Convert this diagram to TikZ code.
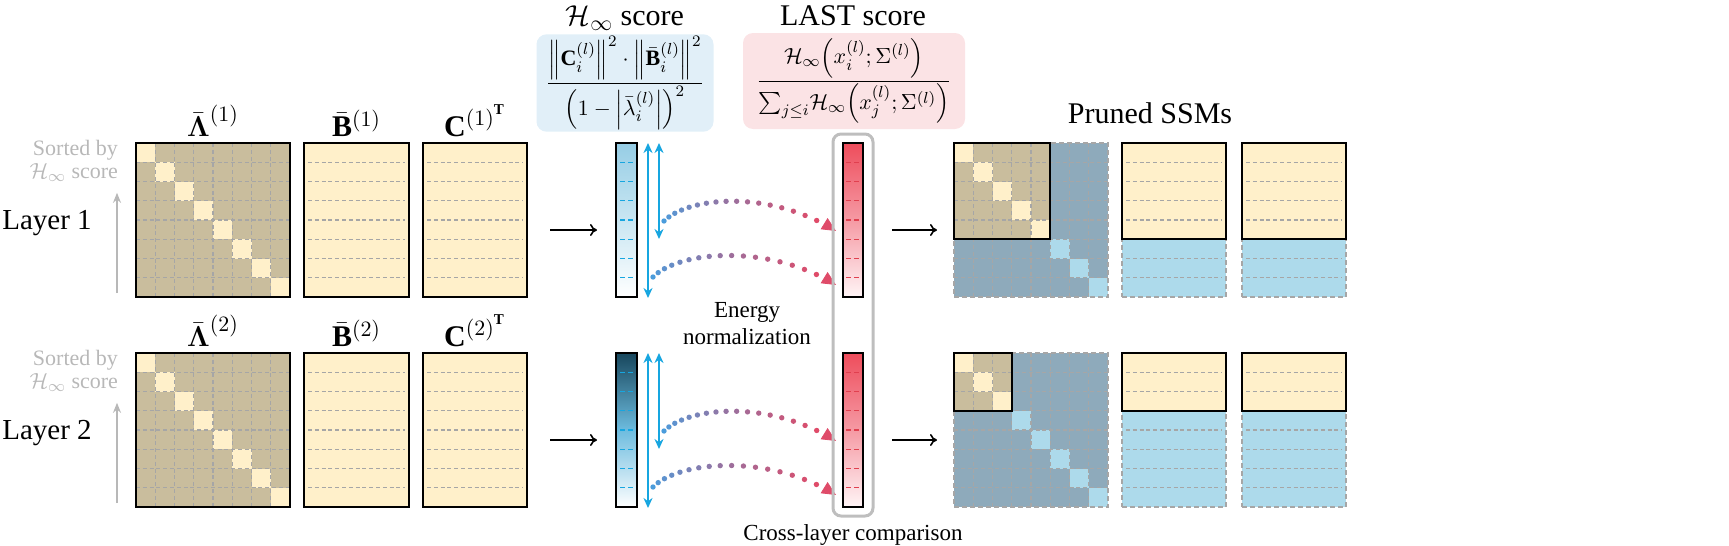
\documentclass[tikz,border=0pt]{standalone}
\usepackage{fontspec}
\setmainfont{Liberation Serif}
\usepackage{amsmath,amssymb,bm}
\usetikzlibrary{arrows.meta,positioning,fit}

\definecolor{lamtan}{HTML}{C9BD9D}
\definecolor{cream}{HTML}{FFF0CA}
\definecolor{slate}{HTML}{8EAABB}
\definecolor{skyfill}{HTML}{ADDAEB}
\definecolor{gridgray}{HTML}{A6A6A6}
\definecolor{hboxblue}{HTML}{E1EFF8}
\definecolor{lboxpink}{HTML}{FBE3E5}
\definecolor{cmpgray}{HTML}{BEBEBE}
\definecolor{arrowcyan}{HTML}{17A6E0}
\definecolor{dotblue}{HTML}{4B9CDC}
\definecolor{dotred}{HTML}{DF4B69}
\definecolor{redtop}{HTML}{EE4D5C}
\definecolor{redmid}{HTML}{F59AA4}
\definecolor{redbot}{HTML}{FFF5F6}
\definecolor{dashred}{HTML}{E0404F}
\definecolor{ebarAtop}{HTML}{96CDE5}
\definecolor{ebarAmid}{HTML}{C9E6F2}
\definecolor{ebarBtop}{HTML}{17465C}
\definecolor{ebarBmid}{HTML}{6DBCDF}
\definecolor{sortgray}{HTML}{B8B8B8}

\tikzset{
  matbox/.style={draw=black, line width=0.9pt, inner sep=0pt, outer sep=0pt},
  cutbox/.style={draw=gridgray, line width=0.8pt, dash pattern=on 2.5pt off 1.5pt, inner sep=0pt, outer sep=0pt},
  gridline/.style={gridgray, line width=0.6pt, dash pattern=on 2pt off 1.4pt},
  bardash/.style={line width=0.7pt, dash pattern=on 2.5pt off 1.5pt},
  flow/.style={-{To[length=3.5pt,width=6pt]}, line width=0.8pt},
  swing/.style={{Stealth[length=5pt,width=4.5pt]}-{Stealth[length=5pt,width=4.5pt]}, arrowcyan, line width=1.3pt},
  sortarrow/.style={-{Stealth[length=5pt,width=4pt]}, sortgray, line width=1pt},
  dot/.style={circle, inner sep=0pt, minimum size=2.7pt},
  tipline/.style={draw=dotred, dash pattern=on 0pt off 600pt, -{Triangle[length=7pt,width=6.5pt]}},
  title/.style={font=\fontsize{15}{18}\selectfont},
  caption/.style={font=\fontsize{11.5}{13.5}\selectfont, align=center},
  matlabel/.style={inner sep=1pt, font=\fontsize{15}{17}\selectfont},
  formbox/.style={rounded corners=5pt, inner sep=1pt, font=\fontsize{11}{13}\selectfont},
}

\begin{document}
\begin{tikzpicture}[x=0.5pt, y=-0.5pt]
  \useasboundingbox (0,0) rectangle (1729,546);
  \def\cs{19.25}

  % Score formulas
  \node[formbox, fill=hboxblue, minimum width=88.5pt, minimum height=47.5pt] (hform) at (625,83)
    {$\dfrac{\Bigl\|\mathbf{C}_i^{(l)}\Bigr\|^2\cdot\Bigl\|\bar{\mathbf{B}}_i^{(l)}\Bigr\|^2}{\Bigl(1-\Bigl|\bar\lambda_i^{(l)}\Bigr|\Bigr)^2}$};
  \node[title] (htitle) at (625,18) {$\mathcal{H}_\infty$ score};
  \node[formbox, fill=lboxpink, minimum width=111pt, minimum height=48pt] (lform) at (854,81)
    {$\dfrac{\mathcal{H}_\infty\Bigl(x_i^{(l)};\Sigma^{(l)}\Bigr)}{{\textstyle\sum_{j\le i}}\mathcal{H}_\infty\Bigl(x_j^{(l)};\Sigma^{(l)}\Bigr)}$};
  \node[title] (ltitle) at (853,16) {LAST score};
  \node[title] (ptitle) at (1150,113) {Pruned SSMs};

  \foreach \l/\yo/\k/\etop/\emid in {1/0/5/ebarAtop/ebarAmid, 2/210/3/ebarBtop/ebarBmid}{
  \begin{scope}[shift={(0,\yo)}]
    % Layer label
    \node[font=\fontsize{14.5}{16}\selectfont] (layer\l) at (47,223) {Layer \l};
    \node[sortgray, align=right, anchor=east, font=\fontsize{11}{11.5}\selectfont] (sorted\l) at (125,161)
      {Sorted by\\$\mathcal{H}_\infty$ score};
    \coordinate (sb\l) at (117,293);
    \draw[sortarrow, shorten >=2pt] (sb\l) -- (sb\l |- sorted\l.south);

    % Lambda matrix
    \fill[lamtan] (136,143) rectangle ++(154,154);
    \foreach \i in {0,...,7}
      \fill[cream] (136+\i*\cs,143+\i*\cs) rectangle ++(\cs,\cs);
    \foreach \i in {1,...,7}{
      \draw[gridline] (136+\i*\cs,143) -- ++(0,154);
      \draw[gridline] (136,143+\i*\cs) -- ++(154,0);
    }
    \node[matbox, minimum width=77pt, minimum height=77pt] (lam\l) at (213,220) {};

    % B and C matrices
    \node[matbox, fill=cream, minimum width=52.5pt, minimum height=77pt] (bmat\l) at (356.5,220) {};
    \node[matbox, fill=cream, minimum width=52pt, minimum height=77pt] (cmat\l) at (475,220) {};
    \foreach \i in {1,...,7}{
      \draw[gridline] (308,143+\i*\cs) -- (405,143+\i*\cs);
      \draw[gridline] (427,143+\i*\cs) -- (523,143+\i*\cs);
    }
    \node[matlabel, above=2pt of lam\l] (lamlab\l) {$\bar{\bm{\Lambda}}^{(\l)}$};
    \node[matlabel, above=2pt of bmat\l] (blab\l) {$\bar{\mathbf{B}}^{(\l)}$};
    \node[matlabel, above=2pt of cmat\l] (clab\l) {$\mathbf{C}^{{(\l)}^{\mathbf{T}}}$};

    % Energy bar
    \node[matbox, top color=\etop, bottom color=white, middle color=\emid, minimum width=10.5pt, minimum height=77pt] (ebar\l) at (626.5,220) {};
    \foreach \i in {1,...,7}
      \draw[bardash, arrowcyan] (620,143+\i*\cs) -- (634,143+\i*\cs);
    \coordinate (la\l) at (648,143);
    \coordinate (lb\l) at (648,298);
    \coordinate (ua\l) at (659,143);
    \coordinate (ub\l) at (659,239);
    \draw[swing] (la\l) -- (lb\l);
    \draw[swing] (ua\l) -- (ub\l);

    % LAST bar
    \node[matbox, top color=redtop, bottom color=redbot, middle color=redmid, minimum width=10pt, minimum height=77pt] (rbar\l) at (853,220) {};
    \foreach \i in {1,...,7}
      \draw[bardash, dashred] (846,143+\i*\cs) -- (860,143+\i*\cs);

    % Dotted links
    \coordinate (hs\l) at (664,221);
    \coordinate (he\l) at (836,231);
    \coordinate (ls\l) at (653,277);
    \coordinate (le\l) at (836,285);
    \foreach \t [evaluate=\t as \p using \t*0.0565, evaluate=\t as \m using \t*6.25] in {0,...,16}{
      \path (hs\l) .. controls +(26,-25) and +(-66,-41) .. (he\l) node[dot, fill=dotred!\m!dotblue, pos=\p] {};
      \path (ls\l) .. controls +(27,-27) and +(-66,-41) .. (le\l) node[dot, fill=dotred!\m!dotblue, pos=\p] {};
    }
    \draw[tipline] (hs\l) .. controls +(26,-25) and +(-66,-41) .. (he\l);
    \draw[tipline] (ls\l) .. controls +(27,-27) and +(-66,-41) .. (le\l);

    % Pruned Lambda
    \fill[slate] (954,143) rectangle ++(154,154);
    \fill[lamtan] (954,143) rectangle ++(\k*\cs,\k*\cs);
    \foreach \i in {0,...,7}{
      \ifnum\i<\k \def\cellcol{cream}\else\def\cellcol{skyfill}\fi
      \fill[\cellcol] (954+\i*\cs,143+\i*\cs) rectangle ++(\cs,\cs);
    }
    \foreach \i in {1,...,7}{
      \draw[gridline] (954+\i*\cs,143) -- ++(0,154);
      \draw[gridline] (954,143+\i*\cs) -- ++(154,0);
    }
    \node[cutbox, minimum width=77pt, minimum height=77pt] (plam\l) at (1031,220) {};
    \node[matbox, anchor=north west, minimum width=\k*9.625pt, minimum height=\k*9.625pt] (pkeep\l) at (954,143) {};

    % Pruned B and C
    \node[cutbox, fill=skyfill, anchor=north west, minimum width=52pt, minimum height=77pt] (pbmat\l) at (1122,143) {};
    \node[cutbox, fill=skyfill, anchor=north west, minimum width=52pt, minimum height=77pt] (pcmat\l) at (1242,143) {};
    \node[matbox, fill=cream, anchor=north west, minimum width=52pt, minimum height=\k*9.625pt] (pbkeep\l) at (1122,143) {};
    \node[matbox, fill=cream, anchor=north west, minimum width=52pt, minimum height=\k*9.625pt] (pckeep\l) at (1242,143) {};
    \foreach \i in {1,...,7}{
      \ifnum\i=\k\else
        \draw[gridline] (1126,143+\i*\cs) -- (1222,143+\i*\cs);
        \draw[gridline] (1246,143+\i*\cs) -- (1342,143+\i*\cs);
      \fi
    }

    % Flow arrows
    \draw[flow, shorten <=11.5pt, shorten >=9.5pt] ([yshift=-5pt]cmat\l.east) -- ([yshift=-5pt]ebar\l.west);
    \draw[flow, shorten <=14.5pt, shorten >=8.5pt] ([yshift=-5pt]rbar\l.east) -- ([yshift=-5pt]plam\l.west);
  \end{scope}
  }

  % Cross-layer box
  \node[draw=cmpgray, line width=1.5pt, rounded corners=4pt, inner xsep=5pt, inner ysep=4.5pt, fit=(rbar1)(rbar2)] (cmp) {};
  \node[caption, below=0pt of cmp] (cmplab) {Cross-layer comparison};
  \node[caption] (enorm) at (747,324) {Energy\\normalization};
\end{tikzpicture}
\end{document}
